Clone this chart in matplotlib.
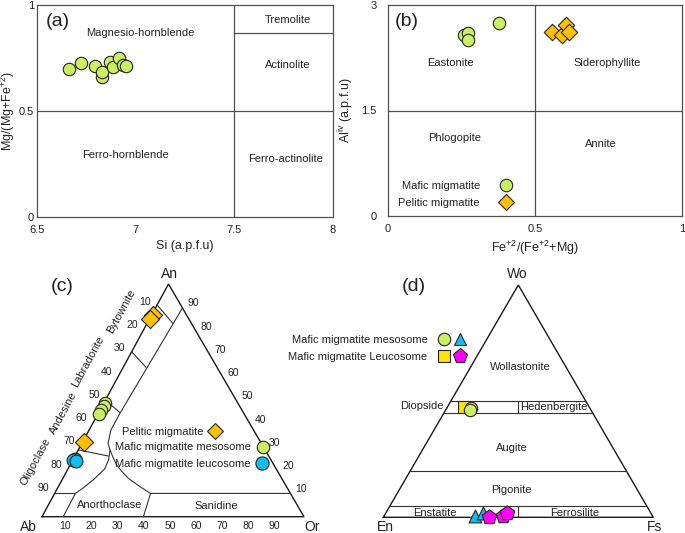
import matplotlib
matplotlib.use("Agg")
import numpy as np
import matplotlib.pyplot as plt
from matplotlib.lines import Line2D
from matplotlib.legend import Legend
from matplotlib.legend_handler import HandlerTuple

plt.rcParams['font.family'] = ['Liberation Sans', 'DejaVu Sans']
plt.rcParams['mathtext.fontset'] = 'custom'
plt.rcParams['mathtext.rm'] = 'Liberation Sans'
plt.rcParams['mathtext.it'] = 'Liberation Sans:italic'
plt.rcParams['mathtext.default'] = 'rm'

# ---------------- data ----------------
# (a) amphibole classification
amph_si = [6.664, 6.725, 6.794, 6.831, 6.831, 6.870, 6.884, 6.917, 6.934, 6.951]
amph_mg = [0.700, 0.725, 0.712, 0.662, 0.683, 0.733, 0.706, 0.749, 0.717, 0.713]
a_xticks = [6.5, 7, 7.5, 8]
a_xticklabels = ['6.5', '7', '7.5', '8']
a_yticks = [0, 0.5, 1]
a_yticklabels = ['0', '0.5', '1']

# (b) biotite classification
bt_mafic_fe = [0.259, 0.273, 0.273, 0.377]
bt_mafic_al = [2.58, 2.60, 2.50, 2.74]
bt_pel_fe = [0.557, 0.591, 0.605, 0.617]
bt_pel_al = [2.61, 2.57, 2.72, 2.61]
b_xticks = [0, 0.5, 1]
b_xticklabels = ['0', '0.5', '1']
b_yticks = [0, 1.5, 3]
b_yticklabels = ['0', '1.5', '3']

# (c) feldspar ternary (An %, Or %)
fsp_pel_an = [86.7, 84.8, 32.2]
fsp_pel_or = [0.5, 0.3, 0.3]
fsp_meso_an = [49.0, 47.6, 45.9, 44.1]
fsp_meso_or = [0.3, 0.5, 0.3, 0.3]
fsp_leuco_an = [24.7, 24.2, 23.9]
fsp_leuco_or = [0.8, 0.2, 1.5]
c_ticks = [10, 20, 30, 40, 50, 60, 70, 80, 90]
# field boundaries (An %, Or %)
c_bound_an = [
    [10, 10],                                            # An10 left part
    [89.7, 44.4, 37.3, 31.5, 28.7, 24.5, 20.5, 15.8, 12.0, 10.0, 0],   # left limit
    [28.7, 25.5, 22.5, 19.5, 16.5, 13.0, 10.0, 10.0],    # right curve + An10 line
    [10.0, 0],                                           # anorthoclase/sanidine
    [91.0, 83.1], [70.9, 64.2], [50.1, 44.7], [28.7, 26.1],
]
c_bound_or = [
    [0, 7.9],
    [10.3, 8.3, 8.3, 10.0, 12.1, 13.6, 14.0, 11.9, 9.5, 7.9, 8.1],
    [12.1, 14.8, 17.5, 21.0, 25.0, 31.0, 36.6, 90.0],
    [36.6, 38.7],
    [0, 9.8], [0, 8.7], [0, 8.2], [0, 12.6],
]

# (d) pyroxene ternary (Wo %, Fs %)
px_meso_circ_wo = [47.0, 46.0]
px_meso_circ_fs = [9.0, 9.2]
px_meso_tri_wo = [0.7, 1.7]
px_meso_tri_fs = [33.6, 36.0]
px_leuco_sq_wo = [47.6]
px_leuco_sq_fs = [6.1]
px_leuco_pent_wo = [0.0, 0.7, 1.7]
px_leuco_pent_fs = [39.3, 44.1, 44.9]
d_hlines_wo = [50, 45, 20, 5]
d_vsegs_wo = [[45, 50], [0, 5]]

# ---------------- style ----------------
GREEN = '#cbee62'
ORANGE = '#ffc000'
BLUE = '#12bdf0'
MAGENTA = '#ff00ff'
YELLOW = '#ffe400'
EDGE = '#262626'
LINE = '#505050'
TXT = '#222222'

fig = plt.figure(figsize=(6.85, 5.33), dpi=100)
W, H = 685.0, 533.0


def pix_axes(l, r, t, b):
    return fig.add_axes([l / W, (H - b) / H, (r - l) / W, (b - t) / H])

# ---------------- (a) ----------------
axa = pix_axes(37, 333, 5, 217)
axa.set_xlim(6.5, 8)
axa.set_ylim(0, 1)
axa.axvline(7.5, color=LINE, lw=0.9)
axa.axhline(0.5, color=LINE, lw=0.9)
axa.plot([7.5, 8], [0.866, 0.866], color=LINE, lw=0.9)
axa.scatter(amph_si, amph_mg, s=80, marker='o', facecolor=GREEN, edgecolor=EDGE, linewidth=0.8, zorder=3)
axa.set_xticks(a_xticks)
axa.set_xticklabels(a_xticklabels)
axa.set_yticks(a_yticks)
axa.set_yticklabels(a_yticklabels)
axa.tick_params(length=0, labelsize=8, labelcolor=TXT)
axa.tick_params(axis='x', pad=6)
axa.tick_params(axis='y', pad=2)
axa.set_xlabel('Si (a.p.f.u)', fontsize=9, color=TXT, labelpad=3)
axa.set_ylabel('Mg/(Mg+Fe$^{+2}$)', fontsize=9, color=TXT)
axa.yaxis.set_label_coords(-0.066, 0.5)
for sp in axa.spines.values():
    sp.set_color(LINE); sp.set_linewidth(0.9)
for txt, x, y in [('Magnesio-hornblende', 7.022, 0.867), ('Tremolite', 7.77, 0.929),
                  ('Actinolite', 7.77, 0.717), ('Ferro-hornblende', 6.951, 0.292),
                  ('Ferro-actinolite', 7.762, 0.274)]:
    axa.text(x, y, txt, fontsize=8, color=TXT, ha='center', va='center')
axa.text(6.603, 0.921, '(a)', fontsize=14, color=TXT, ha='center', va='center')

# ---------------- (b) ----------------
axb = pix_axes(388, 682, 5, 216)
axb.set_xlim(0, 1)
axb.set_ylim(0, 3)
axb.axvline(0.5, color=LINE, lw=0.9)
axb.axhline(1.5, color=LINE, lw=0.9)
axb.scatter(bt_mafic_fe, bt_mafic_al, s=80, marker='o', facecolor=GREEN, edgecolor=EDGE, linewidth=0.8, zorder=3)
axb.scatter(bt_pel_fe, bt_pel_al, s=70, marker='D', facecolor=ORANGE, edgecolor=EDGE, linewidth=0.8, zorder=3)
axb.set_xticks(b_xticks)
axb.set_xticklabels(b_xticklabels)
axb.set_yticks(b_yticks)
axb.set_yticklabels(b_yticklabels)
axb.tick_params(length=0, labelsize=8, labelcolor=TXT)
axb.tick_params(axis='x', pad=6)
axb.tick_params(axis='y', pad=8)
axb.set_xlabel('Fe$^{+2}$/(Fe$^{+2}$+Mg)', fontsize=9, color=TXT, labelpad=3)
axb.set_ylabel('Al$^{iv}$ (a.p.f.u)', fontsize=9, color=TXT)
axb.yaxis.set_label_coords(-0.108, 0.5)
for sp in axb.spines.values():
    sp.set_color(LINE); sp.set_linewidth(0.9)
for txt, x, y in [('Eastonite', 0.214, 2.18), ('Siderophyllite', 0.747, 2.18),
                  ('Phlogopite', 0.228, 1.105), ('Annite', 0.724, 1.02)]:
    axb.text(x, y, txt, fontsize=8, color=TXT, ha='center', va='center')
axb.text(0.064, 2.763, '(b)', fontsize=14, color=TXT, ha='center', va='center')

# full-figure overlay in pixel units for the ternary panels and keys
ax0 = fig.add_axes([0, 0, 1, 1])
ax0.set_xlim(0, 685)
ax0.set_ylim(533, 0)
ax0.set_axis_off()
ax0.patch.set_alpha(0)
ax0.set_zorder(10)

h_green = Line2D([], [], ls='none', marker='o', ms=9, mfc=GREEN, mec=EDGE, mew=0.8)
h_orange = Line2D([], [], ls='none', marker='D', ms=8, mfc=ORANGE, mec=EDGE, mew=0.8)
h_blue = Line2D([], [], ls='none', marker='o', ms=9.5, mfc=BLUE, mec=EDGE, mew=0.8)
h_tri = Line2D([], [], ls='none', marker='^', ms=9, mfc=BLUE, mec=EDGE, mew=0.8)
h_sq = Line2D([], [], ls='none', marker='s', ms=9, mfc=YELLOW, mec=EDGE, mew=0.8)
h_pent = Line2D([], [], ls='none', marker='p', ms=11, mfc=MAGENTA, mec=EDGE, mew=0.8)


def add_key(handles, labels, x, y, pad, hlen, spacing=0.6):
    leg = Legend(ax0, handles, labels, loc='center left', bbox_to_anchor=(x, y),
                 bbox_transform=ax0.transData, markerfirst=False, frameon=False,
                 borderpad=0, borderaxespad=0, handletextpad=pad, handlelength=hlen,
                 labelspacing=spacing, fontsize=8, labelcolor=TXT,
                 handler_map={tuple: HandlerTuple(ndivide=None, pad=0.25)})
    ax0.add_artist(leg)
    return leg

add_key([h_green, h_orange], ['Mafic migmatite', 'Pelitic migmatite'], 398.3, 194.6, 1.7, 1.3)

# ---------------- (c) feldspar ternary ----------------
C_AB, C_OR, C_AN = (42.0, 516.7), (304.0, 516.7), (168.5, 284.0)
D_EN, D_FS, D_WO = (383.3, 517.3), (653.3, 517.3), (518.3, 285.0)


def tern(L, R, T, top, right):
    t = np.asarray(top, dtype=float) / 100.0
    r = np.asarray(right, dtype=float) / 100.0
    x = L[0] + r * (R[0] - L[0]) + t * (T[0] - L[0])
    y = L[1] + r * (R[1] - L[1]) + t * (T[1] - L[1])
    return x, y

# outline
tx, ty = tern(C_AB, C_OR, C_AN, [0, 0, 100, 0], [0, 100, 0, 0])
ax0.plot(tx, ty, color='#1a1a1a', lw=1.0, solid_joinstyle='miter')
for an, orr in zip(c_bound_an, c_bound_or):
    bx, by = tern(C_AB, C_OR, C_AN, an, orr)
    ax0.plot(bx, by, color='#333333', lw=0.8)

px_, py_ = tern(C_AB, C_OR, C_AN, fsp_pel_an, fsp_pel_or)
ax0.scatter(px_, py_, s=85, marker='D', facecolor=ORANGE, edgecolor=EDGE, linewidth=0.8, zorder=3)
px_, py_ = tern(C_AB, C_OR, C_AN, fsp_meso_an, fsp_meso_or)
ax0.scatter(px_, py_, s=80, marker='o', facecolor=GREEN, edgecolor=EDGE, linewidth=0.8, zorder=3)
px_, py_ = tern(C_AB, C_OR, C_AN, fsp_leuco_an, fsp_leuco_or)
ax0.scatter(px_, py_, s=85, marker='o', facecolor=BLUE, edgecolor=EDGE, linewidth=0.8, zorder=3)

# tick labels
for k in c_ticks:
    x, y = tern(C_AB, C_OR, C_AN, 100 - k, 0)
    ax0.text(x - 11, y - 5.5, str(k), fontsize=7.5, color=TXT, ha='center', va='center')
    x, y = tern(C_AB, C_OR, C_AN, k, 100 - k)
    ax0.text(x + 11, y - 4, str(k), fontsize=7.5, color=TXT, ha='center', va='center')
    x, y = tern(C_AB, C_OR, C_AN, 0, k)
    ax0.text(x - 3, y + 9, str(k), fontsize=7.5, color=TXT, ha='center', va='center')

ax0.text(169.3, 274.5, 'An', fontsize=10, color=TXT, ha='center', va='center')
ax0.text(28.3, 527, 'Ab', fontsize=10, color=TXT, ha='center', va='center')
ax0.text(311.7, 527, 'Or', fontsize=10, color=TXT, ha='center', va='center')
ax0.text(61.7, 286.7, '(c)', fontsize=14, color=TXT, ha='center', va='center')

for txt, x, y in [('Oligoclase', 36, 462), ('Andesine', 63, 413),
                  ('Labradorite', 88, 362), ('Bytownite', 121.7, 311.7)]:
    ax0.text(x, y, txt, fontsize=8, color=TXT, ha='center', va='center',
             rotation=61.5, rotation_mode='anchor')
ax0.text(110, 505, 'Anorthoclase', fontsize=8, color=TXT, ha='center', va='center')
ax0.text(216.7, 506, 'Sanidine', fontsize=8, color=TXT, ha='center', va='center')

add_key([h_orange], ['Pelitic migmatite'], 121.7, 431.7, 0.45, 1.3)
add_key([h_green], ['Mafic migmatite mesosome'], 115.0, 447.5, 0.4, 1.3)
add_key([h_blue], ['Mafic migmatite leucosome'], 115.0, 464.0, 0.4, 1.3)

# ---------------- (d) pyroxene ternary ----------------
tx, ty = tern(D_EN, D_FS, D_WO, [0, 0, 100, 0], [0, 100, 0, 0])
ax0.plot(tx, ty, color='#1a1a1a', lw=1.0, solid_joinstyle='miter')
for wo in d_hlines_wo:
    hx, hy = tern(D_EN, D_FS, D_WO, [wo, wo], [0, 100 - wo])
    ax0.plot(hx, hy, color='#333333', lw=0.8)
for seg in d_vsegs_wo:
    fs = [(100 - w) / 2.0 for w in seg]
    vx, vy = tern(D_EN, D_FS, D_WO, seg, fs)
    ax0.plot(vx, vy, color='#333333', lw=0.8)

x_, y_ = tern(D_EN, D_FS, D_WO, px_leuco_sq_wo, px_leuco_sq_fs)
ax0.scatter(x_, y_, s=70, marker='s', facecolor=YELLOW, edgecolor=EDGE, linewidth=0.8, zorder=3)
x_, y_ = tern(D_EN, D_FS, D_WO, px_meso_circ_wo, px_meso_circ_fs)
ax0.scatter(x_, y_, s=80, marker='o', facecolor=GREEN, edgecolor=EDGE, linewidth=0.8, zorder=3)
x_, y_ = tern(D_EN, D_FS, D_WO, px_meso_tri_wo, px_meso_tri_fs)
ax0.scatter(x_, y_, s=85, marker='^', facecolor=BLUE, edgecolor=EDGE, linewidth=0.8, zorder=3)
x_, y_ = tern(D_EN, D_FS, D_WO, px_leuco_pent_wo, px_leuco_pent_fs)
ax0.scatter(x_, y_, s=120, marker='p', facecolor=MAGENTA, edgecolor=EDGE, linewidth=0.8, zorder=3)

ax0.text(517.7, 274.5, 'Wo', fontsize=10, color=TXT, ha='center', va='center')
ax0.text(385, 527, 'En', fontsize=10, color=TXT, ha='center', va='center')
ax0.text(655, 527, 'Fs', fontsize=10, color=TXT, ha='center', va='center')
ax0.text(414, 286.7, '(d)', fontsize=14, color=TXT, ha='center', va='center')
for txt, x, y in [('Wollastonite', 520, 366.7), ('Diopside', 421.7, 405.7),
                  ('Hedenbergite', 554.2, 406.5), ('Augite', 511.7, 448.3),
                  ('Pigonite', 511.7, 490), ('Enstatite', 435, 513.3),
                  ('Ferrosilite', 575, 513.3)]:
    ax0.text(x, y, txt, fontsize=8, color=TXT, ha='center', va='center')

add_key([(h_green, h_tri), (h_sq, h_pent)],
        ['Mafic migmatite mesosome', 'Mafic migmatite Leucosome'], 288.3, 348.2, 0.9, 2.6)

fig.savefig('out.png', dpi=100)
